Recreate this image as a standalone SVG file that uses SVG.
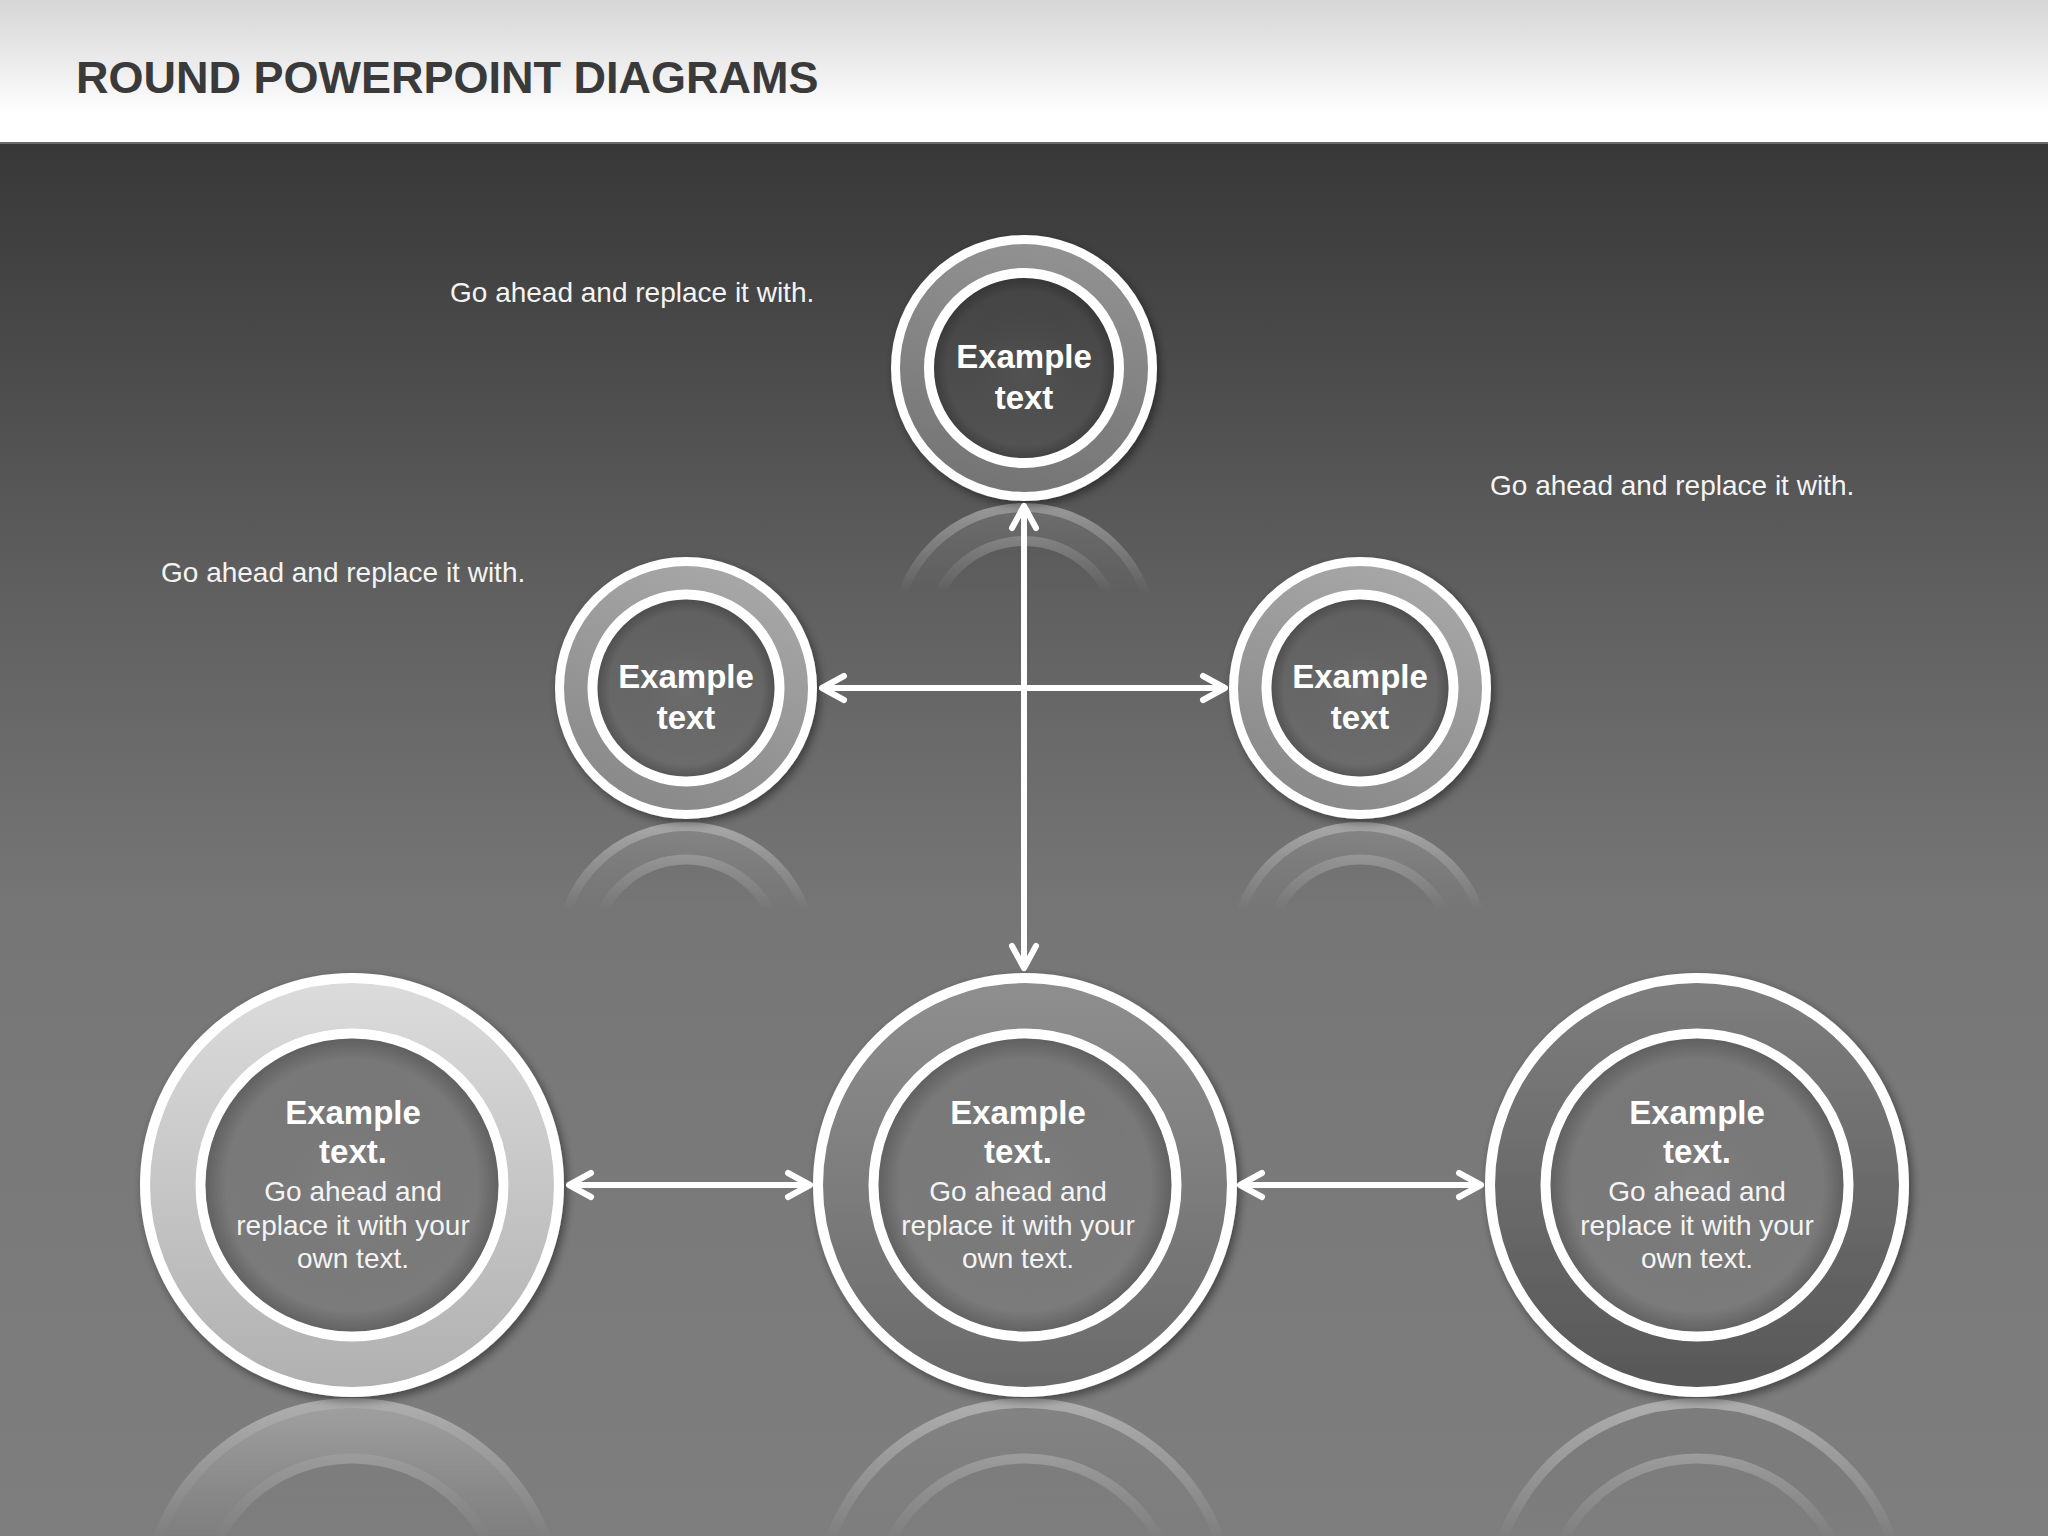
<svg xmlns="http://www.w3.org/2000/svg" width="2048" height="1536" viewBox="0 0 2048 1536">
<defs>
  <linearGradient id="bg" gradientUnits="userSpaceOnUse" x1="0" y1="144" x2="0" y2="1536">
    <stop offset="0" stop-color="#383838"/>
    <stop offset="0.11" stop-color="#454545"/>
    <stop offset="0.31" stop-color="#5e5e5e"/>
    <stop offset="0.55" stop-color="#767676"/>
    <stop offset="1" stop-color="#7e7e7e"/>
  </linearGradient>
  <linearGradient id="hdr" x1="0" y1="0" x2="0" y2="1">
    <stop offset="0" stop-color="#d6d6d6"/>
    <stop offset="0.45" stop-color="#ececec"/>
    <stop offset="0.8" stop-color="#ffffff"/>
    <stop offset="1" stop-color="#ffffff"/>
  </linearGradient>
  <linearGradient id="gTop" x1="0.6" y1="0" x2="0.4" y2="1">
    <stop offset="0" stop-color="#929292"/>
    <stop offset="1" stop-color="#747474"/>
  </linearGradient>
  <linearGradient id="gMid" x1="0.7" y1="0" x2="0.3" y2="1">
    <stop offset="0" stop-color="#a8a8a8"/>
    <stop offset="1" stop-color="#888888"/>
  </linearGradient>
  <linearGradient id="gBL" x1="0.5" y1="0" x2="0.5" y2="1">
    <stop offset="0" stop-color="#dcdcdc"/>
    <stop offset="1" stop-color="#b0b0b0"/>
  </linearGradient>
  <linearGradient id="gBC" x1="0.5" y1="0" x2="0.5" y2="1">
    <stop offset="0" stop-color="#8f8f8f"/>
    <stop offset="1" stop-color="#6a6a6a"/>
  </linearGradient>
  <linearGradient id="gBR" x1="0.5" y1="0" x2="0.5" y2="1">
    <stop offset="0" stop-color="#7e7e7e"/>
    <stop offset="1" stop-color="#575757"/>
  </linearGradient>
  <radialGradient id="disc" cx="0.5" cy="0.5" r="0.5">
    <stop offset="0" stop-color="#ffffff" stop-opacity="0.04"/>
    <stop offset="0.86" stop-color="#000000" stop-opacity="0"/>
    <stop offset="1" stop-color="#000000" stop-opacity="0.2"/>
  </radialGradient>
  <linearGradient id="fade" x1="0" y1="0" x2="0" y2="1">
    <stop offset="0.07" stop-color="#ffffff" stop-opacity="0.5"/>
    <stop offset="0.36" stop-color="#ffffff" stop-opacity="0"/>
  </linearGradient>
  <mask id="refl" maskContentUnits="objectBoundingBox">
    <rect x="-0.1" y="-0.1" width="1.2" height="1.2" fill="url(#fade)"/>
  </mask>
  <filter id="shadow" x="-20%" y="-20%" width="140%" height="140%">
    <feDropShadow dx="3" dy="4" stdDeviation="5" flood-color="#000000" flood-opacity="0.45"/>
  </filter>
  <marker id="chev" markerUnits="userSpaceOnUse" viewBox="-30 -20 40 40" refX="0" refY="0" markerWidth="40" markerHeight="40" orient="auto-start-reverse">
    <path d="M -22 -12 L 0 0 L -22 12" fill="none" stroke="#ffffff" stroke-width="6" stroke-linecap="round" stroke-linejoin="round"/>
  </marker>
  <style>
    .ring { stroke: #ffffff; }
    .inner { fill: url(#bg); stroke: #ffffff; }
    .shade { fill: url(#disc); }
    .rin { fill: url(#bg); stroke: #ffffff; stroke-width: 10; }
    .rf { opacity: 0.8; }
    .h { font-family: "Liberation Sans", Arial, sans-serif; font-weight: bold; font-size: 33px; fill: #ffffff; text-anchor: middle; }
    .b { font-family: "Liberation Sans", Arial, sans-serif; font-size: 28px; fill: #f4f4f4; text-anchor: middle; }
    .lbl { font-family: "Liberation Sans", Arial, sans-serif; font-size: 28px; fill: #f4f4f4; }
    .title { font-family: "Liberation Sans", Arial, sans-serif; font-weight: bold; font-size: 45px; fill: #3a3a3a; }
    .conn { stroke: #ffffff; stroke-width: 6; fill: none; }
  </style>
</defs>

<rect x="0" y="0" width="2048" height="1536" fill="url(#bg)"/>
<rect x="0" y="0" width="2048" height="143" fill="url(#hdr)"/>
<rect x="0" y="142" width="2048" height="2" fill="#6a6a6a"/>
<text class="title" x="76" y="93">ROUND POWERPOINT DIAGRAMS</text>

<text class="lbl" x="450" y="302">Go ahead and replace it with.</text>
<text class="lbl" x="161" y="582">Go ahead and replace it with.</text>
<text class="lbl" x="1490" y="495">Go ahead and replace it with.</text>

<g id="node-top">
  <g mask="url(#refl)" class="rf">
    <circle cx="1024" cy="636" r="128.5" fill="url(#gTop)" stroke="#ffffff" stroke-width="9"/>
    <circle class="rin" cx="1024" cy="636" r="95"/>
  </g>
  <circle class="ring" cx="1024" cy="368" r="128.5" fill="url(#gTop)" stroke-width="9" filter="url(#shadow)"/>
  <circle class="inner" cx="1024" cy="368" r="95" stroke-width="10"/>
  <circle class="shade" cx="1024" cy="368" r="90"/>
  <text class="h" x="1024" y="368">Example</text>
  <text class="h" x="1024" y="409">text</text>
</g>

<g id="node-left">
  <g mask="url(#refl)" class="rf">
    <circle cx="686" cy="953" r="126.5" fill="url(#gMid)" stroke="#ffffff" stroke-width="9"/>
    <circle class="rin" cx="686" cy="953" r="93.5"/>
  </g>
  <circle class="ring" cx="686" cy="688" r="126.5" fill="url(#gMid)" stroke-width="9" filter="url(#shadow)"/>
  <circle class="inner" cx="686" cy="688" r="93.5" stroke-width="10"/>
  <circle class="shade" cx="686" cy="688" r="88.5"/>
  <text class="h" x="686" y="688">Example</text>
  <text class="h" x="686" y="729">text</text>
</g>

<g id="node-right">
  <g mask="url(#refl)" class="rf">
    <circle cx="1360" cy="953" r="126.5" fill="url(#gMid)" stroke="#ffffff" stroke-width="9"/>
    <circle class="rin" cx="1360" cy="953" r="93.5"/>
  </g>
  <circle class="ring" cx="1360" cy="688" r="126.5" fill="url(#gMid)" stroke-width="9" filter="url(#shadow)"/>
  <circle class="inner" cx="1360" cy="688" r="93.5" stroke-width="10"/>
  <circle class="shade" cx="1360" cy="688" r="88.5"/>
  <text class="h" x="1360" y="688">Example</text>
  <text class="h" x="1360" y="729">text</text>
</g>

<g id="node-bottom-left">
  <g mask="url(#refl)" class="rf">
    <circle cx="352" cy="1610" r="207" fill="url(#gBL)" stroke="#ffffff" stroke-width="10"/>
    <circle class="rin" cx="352" cy="1610" r="151.5"/>
  </g>
  <circle class="ring" cx="352" cy="1185" r="207" fill="url(#gBL)" stroke-width="10" filter="url(#shadow)"/>
  <circle class="inner" cx="352" cy="1185" r="151.5" stroke-width="10"/>
  <circle class="shade" cx="352" cy="1185" r="146.5"/>
  <text class="h" x="353" y="1124">Example</text>
  <text class="h" x="353" y="1163">text.</text>
  <text class="b" x="353" y="1201">Go ahead and</text>
  <text class="b" x="353" y="1235">replace it with your</text>
  <text class="b" x="353" y="1268">own text.</text>
</g>

<g id="node-bottom-center">
  <g mask="url(#refl)" class="rf">
    <circle cx="1025" cy="1610" r="207" fill="url(#gBC)" stroke="#ffffff" stroke-width="10"/>
    <circle class="rin" cx="1025" cy="1610" r="151.5"/>
  </g>
  <circle class="ring" cx="1025" cy="1185" r="207" fill="url(#gBC)" stroke-width="10" filter="url(#shadow)"/>
  <circle class="inner" cx="1025" cy="1185" r="151.5" stroke-width="10"/>
  <circle class="shade" cx="1025" cy="1185" r="146.5"/>
  <text class="h" x="1018" y="1124">Example</text>
  <text class="h" x="1018" y="1163">text.</text>
  <text class="b" x="1018" y="1201">Go ahead and</text>
  <text class="b" x="1018" y="1235">replace it with your</text>
  <text class="b" x="1018" y="1268">own text.</text>
</g>

<g id="node-bottom-right">
  <g mask="url(#refl)" class="rf">
    <circle cx="1697" cy="1610" r="207" fill="url(#gBR)" stroke="#ffffff" stroke-width="10"/>
    <circle class="rin" cx="1697" cy="1610" r="151.5"/>
  </g>
  <circle class="ring" cx="1697" cy="1185" r="207" fill="url(#gBR)" stroke-width="10" filter="url(#shadow)"/>
  <circle class="inner" cx="1697" cy="1185" r="151.5" stroke-width="10"/>
  <circle class="shade" cx="1697" cy="1185" r="146.5"/>
  <text class="h" x="1697" y="1124">Example</text>
  <text class="h" x="1697" y="1163">text.</text>
  <text class="b" x="1697" y="1201">Go ahead and</text>
  <text class="b" x="1697" y="1235">replace it with your</text>
  <text class="b" x="1697" y="1268">own text.</text>
</g>

<g id="connectors">
  <line class="conn" x1="1024" y1="506" x2="1024" y2="968" marker-start="url(#chev)" marker-end="url(#chev)"/>
  <line class="conn" x1="822" y1="688" x2="1225" y2="688" marker-start="url(#chev)" marker-end="url(#chev)"/>
  <line class="conn" x1="569" y1="1185" x2="810" y2="1185" marker-start="url(#chev)" marker-end="url(#chev)"/>
  <line class="conn" x1="1240" y1="1185" x2="1481" y2="1185" marker-start="url(#chev)" marker-end="url(#chev)"/>
</g>
</svg>
